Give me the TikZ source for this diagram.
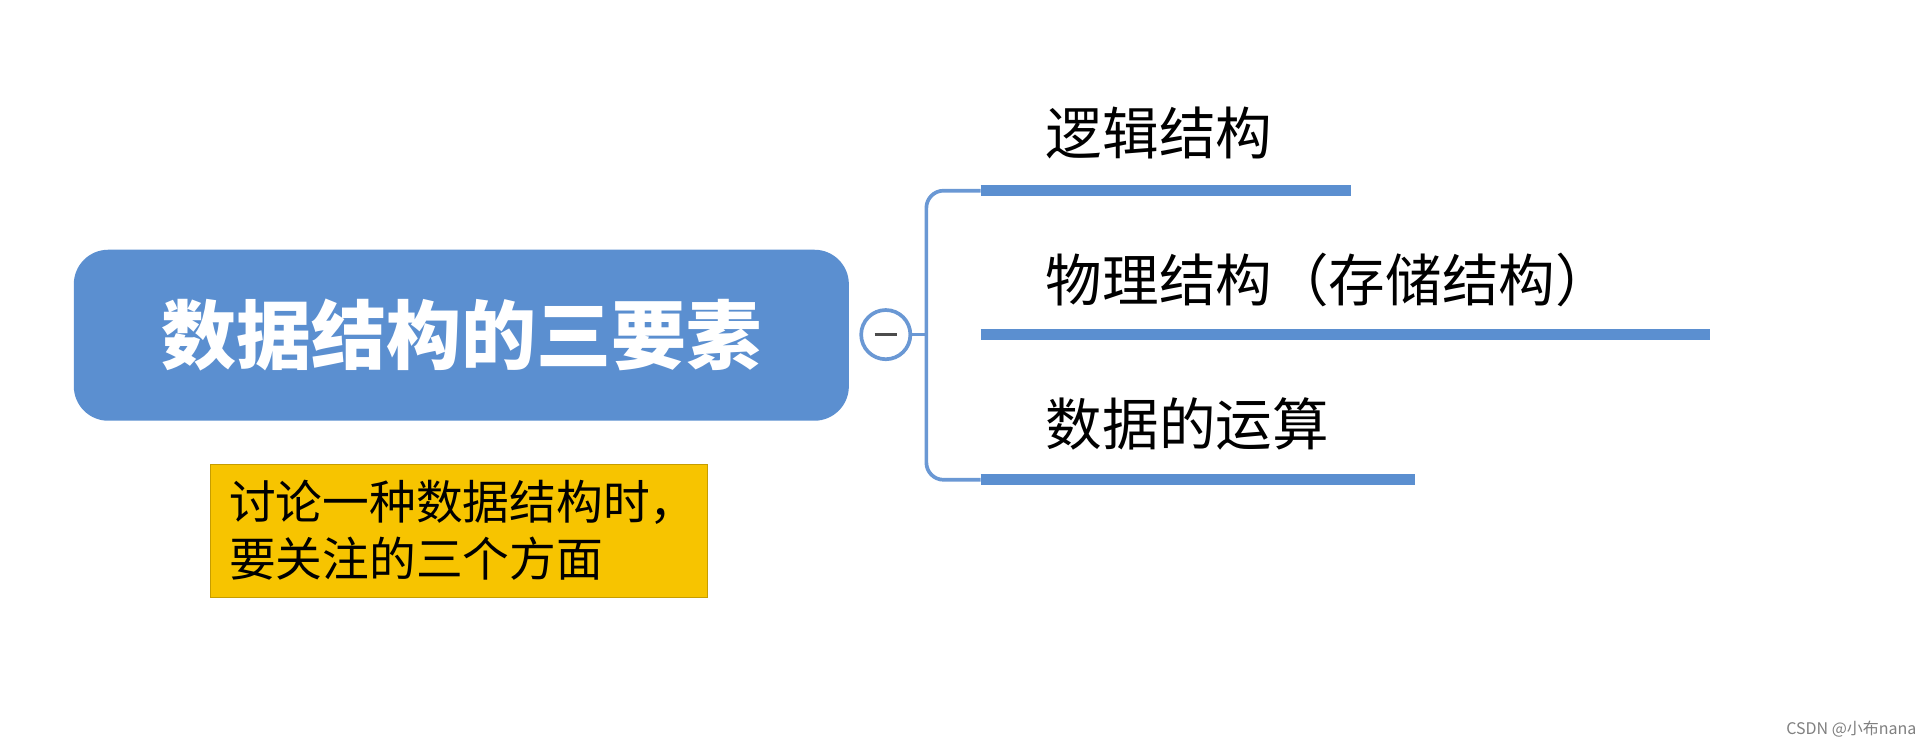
\documentclass[tikz,border=0pt]{standalone}
\usepackage{fontspec}
\setmainfont{Noto Sans CJK SC}
\definecolor{mblue}{HTML}{5B8FD0}
\definecolor{lblue}{HTML}{6A98D4}
\definecolor{myel}{HTML}{F7C400}
\begin{document}
\begin{tikzpicture}[x=1pt,y=-1pt,
  bar/.style={line width=9pt,draw=mblue},
  lbl/.style={anchor=west,font=\fontsize{46}{48}\selectfont,inner sep=0pt}]
\useasboundingbox[fill=white] (0,0) rectangle (1568,609);
\node[fill=mblue,rounded corners=28pt,minimum width=630pt,minimum height=139pt,inner sep=0pt,
  font=\fontsize{61}{63}\selectfont\bfseries,text=white] (main) at (375,272.5) {数据结构的三要素};
\node[circle,draw=lblue,line width=3pt,fill=white,minimum size=40pt,inner sep=0pt] (col) at (720,272) {};
\draw[line width=3pt,draw=black!70] (711,272) -- (729,272);
\draw[lblue,line width=3pt] (col.east) -- (753,272);
\coordinate (b1) at (797,155);
\coordinate (b2) at (797,272);
\coordinate (b3) at (797,390);
\draw[lblue,line width=3pt,rounded corners=14pt] (b1) -- (753,155) -- (753,390) -- (b3);
\draw[bar] (b1) -- (1098,155);
\draw[bar] (b2) -- (1390,272);
\draw[bar] (b3) -- (1150,390);
\node[lbl] (l1) at (850,108) {逻辑结构};
\node[lbl] (l2) at (850,228) {物理结构（存储结构）};
\node[lbl] (l3) at (850,345) {数据的运算};
\node[fill=myel,draw=myel!80!black,line width=0.5pt,minimum width=404pt,minimum height=108pt,
  anchor=north west,inner sep=0pt] (y) at (171,377) {};
\node[anchor=west,align=left,inner sep=0pt,font=\fontsize{38}{46}\selectfont] (yt) at (186,431) {讨论一种数据结构时，\\要关注的三个方面};
\node[anchor=east,inner sep=0pt,text=gray,font=\fontsize{13}{14}\selectfont] (wm) at (1558,593) {CSDN @小布nana};
\end{tikzpicture}
\end{document}
